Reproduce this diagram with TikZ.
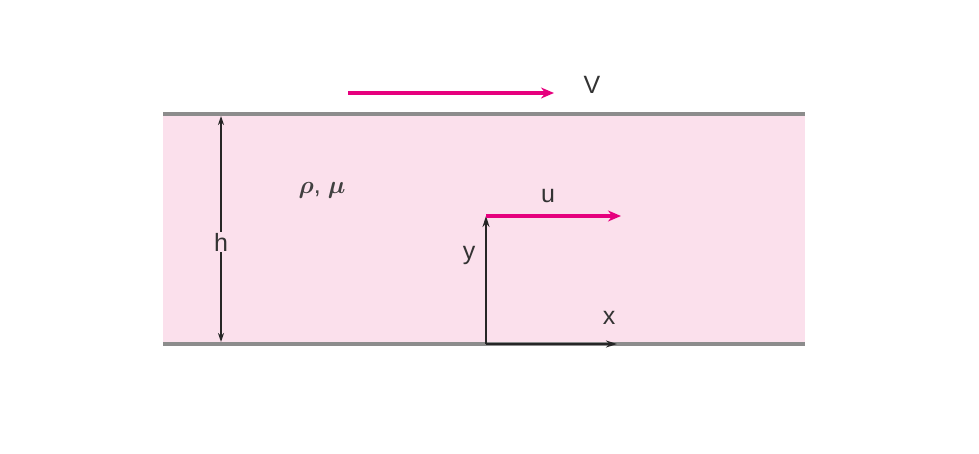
\documentclass[tikz,border=0pt]{standalone}
\usepackage{fontspec}
\usepackage{amsmath,bm}
\setmainfont{Liberation Sans}
\usetikzlibrary{arrows.meta}
\definecolor{fluid}{RGB}{251,224,236}
\definecolor{mag}{RGB}{230,0,126}
\definecolor{wall}{RGB}{140,140,140}
\tikzset{
  magarrow/.style={mag,line width=3.4pt,-{Stealth[length=13pt,width=11pt]}},
  axarrow/.style={black!85,line width=1.6pt,-{Stealth[length=11pt,width=7pt]}},
  lbl/.style={font=\fontsize{25}{27}\selectfont,text=black!80,inner sep=1pt}
}
\begin{document}
\begin{tikzpicture}[x=1pt,y=-1pt]
\useasboundingbox (0,0) rectangle (979,454);
\fill[fluid] (163,114) rectangle (805,344);
\draw[wall,line width=3.5pt] (163,114) -- (805,114);
\draw[wall,line width=3.5pt] (163,344) -- (805,344);
\coordinate (vs) at (348,93); \coordinate (ve) at (554,93);
\draw[magarrow] (vs) -- (ve);
\node[lbl] (V) at (592,85) {V};
\coordinate (ht) at (221,116); \coordinate (hb) at (221,342);
\node[lbl,fill=fluid] (h) at (221,242) {h};
\draw[black!85,line width=1.4pt,-{Stealth[length=9pt,width=6pt]}] (h.north) -- (ht);
\draw[black!85,line width=1.4pt,-{Stealth[length=9pt,width=6pt]}] (h.south) -- (hb);
\node[lbl,text=black!75] (rm) at (322,190) {$\bm{\rho}$, $\bm{\mu}$};
\coordinate (o) at (486,344); \coordinate (yt) at (486,216); \coordinate (xe) at (617,344);
\coordinate (ue) at (621,216);
\draw[axarrow] (o) -- (yt);
\draw[axarrow] (o) -- (xe);
\draw[magarrow] (yt) -- (ue);
\node[lbl] (u) at (548,196) {u};
\node[lbl] (y) at (469,255) {y};
\node[lbl] (x) at (609,318) {x};
\end{tikzpicture}
\end{document}
